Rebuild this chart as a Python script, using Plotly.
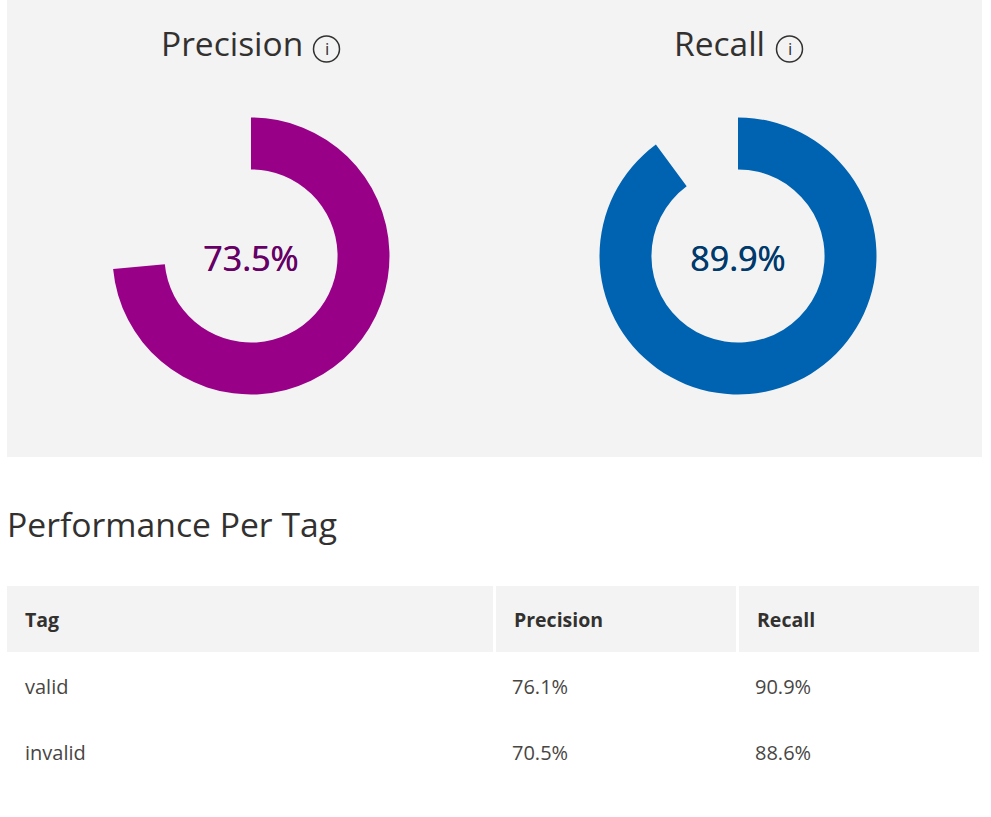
import plotly.graph_objects as go

W, H = 991, 817
metric_names = ["Precision", "Recall"]
metric_values = [73.5, 89.9]
metric_colors = ["#990088", "#0063B1"]
metric_text_colors = ["#660066", "#003A6C"]
table_header = ["Tag", "Precision", "Recall"]
tags = ["valid", "invalid"]
tag_precision = ["76.1%", "70.5%"]
tag_recall = ["90.9%", "88.6%"]

FONT = "Open Sans"
INK = "#323130"
CELL_INK = "#484644"
PANEL = "#F3F3F3"


def fx(p):
    return p / W


def fy(p):
    return 1 - p / H


fig = go.Figure()
cx_list = [251, 738]
cy, r = 256, 138.5
for i, name in enumerate(metric_names):
    v = metric_values[i]
    fig.add_trace(go.Pie(
        values=[v, 100 - v], labels=[name, "rest"], sort=False, direction="clockwise",
        rotation=0, hole=0.625, textinfo="none", hoverinfo="skip", showlegend=False,
        marker=dict(colors=[metric_colors[i], "rgba(0,0,0,0)"], line=dict(width=0)),
        domain=dict(x=[fx(cx_list[i] - r), fx(cx_list[i] + r)], y=[fy(cy + r), fy(cy - r)]),
    ))

ann = []
title_x = [231.5, 719]
icon_x = [326.5, 789.5]
for i, name in enumerate(metric_names):
    ann.append(dict(x=fx(title_x[i]), y=fy(43.5), text=name, showarrow=False, xanchor="center", yanchor="middle",
                    font=dict(family=FONT, size=33.5, color=INK)))
    ann.append(dict(x=fx(icon_x[i]), y=fy(49), text="i", showarrow=False, xanchor="center", yanchor="middle",
                    font=dict(family=FONT, size=17, color=INK)))
    ann.append(dict(x=fx(cx_list[i] - 0.7), y=fy(258), text=f"{metric_values[i]}%", showarrow=False,
                    xanchor="center", yanchor="middle",
                    font=dict(family=FONT, size=34, color=metric_text_colors[i],
                              shadow=f"0.6px 0 0 {metric_text_colors[i]}")))
ann.append(dict(x=fx(5), y=fy(523.5), text="Performance Per Tag", showarrow=False, xanchor="left", yanchor="middle",
                font=dict(family=FONT, size=33.7, color=INK)))

shapes = [dict(type="rect", xref="paper", yref="paper", x0=fx(7), x1=fx(982), y0=fy(457), y1=fy(0),
               fillcolor=PANEL, line=dict(width=0), layer="below")]
for ix in icon_x:
    shapes.append(dict(type="circle", xref="paper", yref="paper", x0=fx(ix - 13), x1=fx(ix + 13),
                       y0=fy(62), y1=fy(36), line=dict(color=INK, width=1.5)))

col_left = [7, 496, 739]
col_right = [493, 736, 979]
for x0, x1 in zip(col_left, col_right):
    shapes.append(dict(type="rect", xref="paper", yref="paper", x0=fx(x0), x1=fx(x1), y0=fy(652), y1=fy(586),
                       fillcolor=PANEL, line=dict(width=0), layer="below"))

header_x = [23, 512, 755]
for x, t in zip(header_x, table_header):
    ann.append(dict(x=fx(x), y=fy(619.5), text=f"<b>{t}</b>", showarrow=False, xanchor="left", yanchor="middle",
                    font=dict(family=FONT, size=19.5, color=INK)))
cell_x = [23, 510, 753]
row_y = [686, 752]
for x, col in zip(cell_x, [tags, tag_precision, tag_recall]):
    for y, t in zip(row_y, col):
        ann.append(dict(x=fx(x), y=fy(y), text=t, showarrow=False, xanchor="left", yanchor="middle",
                        font=dict(family=FONT, size=20, color=CELL_INK)))

fig.update_layout(width=W, height=H, margin=dict(l=0, r=0, t=0, b=0), paper_bgcolor="white",
                  annotations=ann, shapes=shapes)
fig.write_html("out.html", config=dict(displayModeBar=False),
               post_script="document.body.style.margin='0';")
